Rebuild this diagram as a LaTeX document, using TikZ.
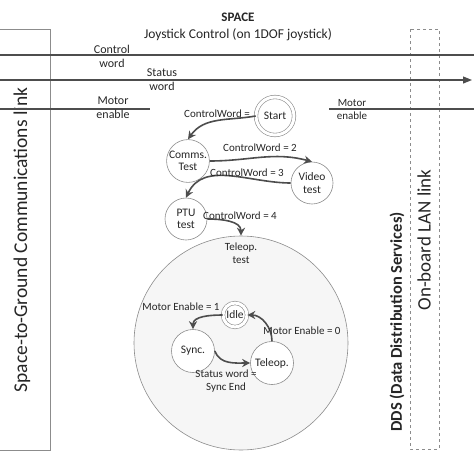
\documentclass[tikz,border=0pt]{standalone}
\usepackage{fontspec}
\setmainfont{Carlito}
\usetikzlibrary{arrows.meta}
\definecolor{ink}{HTML}{262626}
\definecolor{wire}{HTML}{4D4D4D}
\definecolor{rim}{HTML}{8C8C8C}
\definecolor{paper}{HTML}{F6F6F6}

\begin{document}
\begin{tikzpicture}[x=1pt,y=-1pt,
	every node/.style={text=ink},
	state/.style={circle,draw=rim,fill=white,line width=0.6pt,minimum size=42pt,inner sep=0pt,align=center,font=\fontsize{11.5}{12.5}\selectfont},
	initstate/.style={state,double=white,double distance=3pt},
	msg/.style={draw=wire,line width=1.1pt},
	trans/.style={draw=wire,line width=1.6pt,-{Stealth[length=8pt,width=8pt]}},
	tag/.style={align=center,inner sep=1pt,font=\fontsize{11}{13}\selectfont},
	msgtag/.style={align=center,inner sep=1pt,font=\fontsize{12}{14}\selectfont}]
	\useasboundingbox (0,0) rectangle (474,474);

	% the two links
	\draw[rim,line width=0.6pt] (-1,29) rectangle (50,450);
	\draw[rim,line width=0.6pt,dashed] (410,29) rectangle (439,449);
	\node[rotate=90,font=\fontsize{19.5}{19.5}\selectfont] (s2g) at (22,240) {Space-to-Ground Communications link};
	\node[rotate=90,font=\fontsize{19}{19}\selectfont] (lan) at (424,240) {On-board LAN link};
	\node[rotate=90,font=\bfseries\fontsize{16.5}{16.5}\selectfont] (dds) at (397,322) {DDS (Data Distribution Services)};

	% title
	\node[font=\bfseries\fontsize{13}{13}\selectfont] (space) at (238,17) {SPACE};
	\node[font=\fontsize{13.5}{14}\selectfont] (joy) at (238,35) {Joystick Control (on 1DOF joystick)};

	% messages
	\coordinate (cw1) at (0,55);
	\coordinate (cw2) at (474,55);
	\coordinate (sw1) at (0,80);
	\coordinate (sw2) at (472,80);
	\coordinate (me1) at (0,109);
	\coordinate (me2) at (150,109);
	\coordinate (me3) at (329,109);
	\coordinate (me4) at (474,109);
	\draw[msg] (cw1) -- (cw2);
	\draw[msg,-{Triangle[length=9pt,width=7pt]}] (sw1) -- (sw2);
	\draw[msg] (me1) -- (me2);
	\draw[msg] (me3) -- (me4);
	\node[msgtag] (cwtag) at (112,56) {Control\\word};
	\node[msgtag] (swtag) at (162,80) {Status\\word};
	\node[msgtag] (metag) at (113,108) {Motor\\enable};
	\node[tag] (metag2) at (352,110) {Motor\\enable};

	% test sequence
	\node[initstate,minimum size=38pt] (start) at (275,116) {Start};
	\node[state] (comms) at (188,161) {Comms.\\Test};
	\node[state] (video) at (312,183) {Video\\test};
	\node[state] (ptu) at (186,219) {PTU\\test};
	\draw[trans] (start.west) to[out=190,in=55] (comms.north);
	\draw[trans] (comms.east) to[out=0,in=165] (video.north);
	\draw[trans] (video.west) to[out=180,in=65] (ptu.north);
	\node[tag] (t1) at (217,114) {ControlWord =};
	\node[tag] (t2) at (260,148) {ControlWord = 2};
	\node[tag] (t3) at (247,173) {ControlWord = 3};
	\node[tag] (t4) at (240,216) {ControlWord = 4};

	% teleoperation test
	\node[circle,draw=rim,fill=paper,line width=0.6pt,minimum size=214pt,inner sep=0pt] (tele) at (241,343) {};
	\draw[trans] (ptu.east) to[out=0,in=90] (tele.north);
	\node[tag] (teletag) at (241,253) {Teleop.\\test};
	\node[initstate,minimum size=24pt] (idle) at (235,315) {Idle};
	\node[state,minimum size=43pt] (sync) at (193,351) {Sync.};
	\node[state,minimum size=43pt] (teleop) at (272,363) {Teleop.};
	\draw[trans] (idle.west) to[out=180,in=90] (sync.north);
	\draw[trans] (sync.east) to[out=-70,in=180] (teleop.west);
	\draw[trans] (teleop.north) to[out=90,in=0] (idle.east);
	\node[tag] (t5) at (181,307) {Motor Enable = 1};
	\node[tag] (t6) at (302,331) {Motor Enable = 0};
	\node[tag] (t7) at (226,381) {Status word =\\Sync End};
\end{tikzpicture}
\end{document}
